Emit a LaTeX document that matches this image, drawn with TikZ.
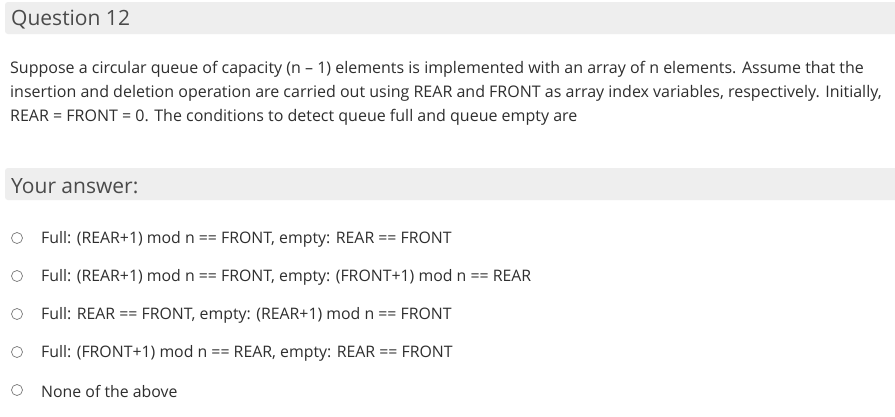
\documentclass[tikz,border=0pt]{standalone}
\usepackage{fontspec}
\setmainfont{Open Sans}
\definecolor{bar}{HTML}{EEEEEE}
\definecolor{txt}{HTML}{2E2E2E}
\definecolor{head}{HTML}{4A4A4A}
\definecolor{ring}{HTML}{777777}
\begin{document}
\begin{tikzpicture}[x=1pt,y=-1pt,
  hbar/.style={fill=bar,rounded corners=3pt},
  htext/.style={anchor=west,inner sep=0pt,text=head,font=\fontsize{21}{24}\selectfont},
  para/.style={anchor=west,inner sep=0pt,text=txt,font=\fontsize{16}{24}\selectfont},
  opt/.style={anchor=west,inner sep=0pt,text=txt,font=\fontsize{15.85}{18}\selectfont},
  radio/.style={circle,draw=ring,line width=0.7pt,minimum size=11pt,inner sep=0pt,fill=white}]
\useasboundingbox (0,0) rectangle (895,416);
\fill[white] (0,0) rectangle (895,416);
\fill[hbar] (5,2) rectangle (900,34);
\node[htext] (q) at (11,19.5) {Question 12};
\node[para] (p1) at (10,69.5) {Suppose a circular queue of capacity (n – 1) elements is implemented with an array of n elements. Assume that the};
\node[para] (p2) at (10,93.5) {insertion and deletion operation are carried out using REAR and FRONT as array index variables, respectively. Initially,};
\node[para] (p3) at (10,117.5) {REAR = FRONT = 0. The conditions to detect queue full and queue empty are};
\fill[hbar] (5,168) rectangle (900,200);
\node[htext] (ya) at (11,186.5) {Your answer:};
\foreach \i/\y/\t in {1/238/{Full: (REAR+1) mod n == FRONT, empty: REAR == FRONT},
  2/276/{Full: (REAR+1) mod n == FRONT, empty: (FRONT+1) mod n == REAR},
  3/314/{Full: REAR == FRONT, empty: (REAR+1) mod n == FRONT},
  4/352/{Full: (FRONT+1) mod n == REAR, empty: REAR == FRONT},
  5/390/{None of the above}}{
  \node[radio] (r\i) at (17,\y) {};
  \node[opt] (o\i) at (41,\y+1.5) {\t};
}
\end{tikzpicture}
\end{document}
